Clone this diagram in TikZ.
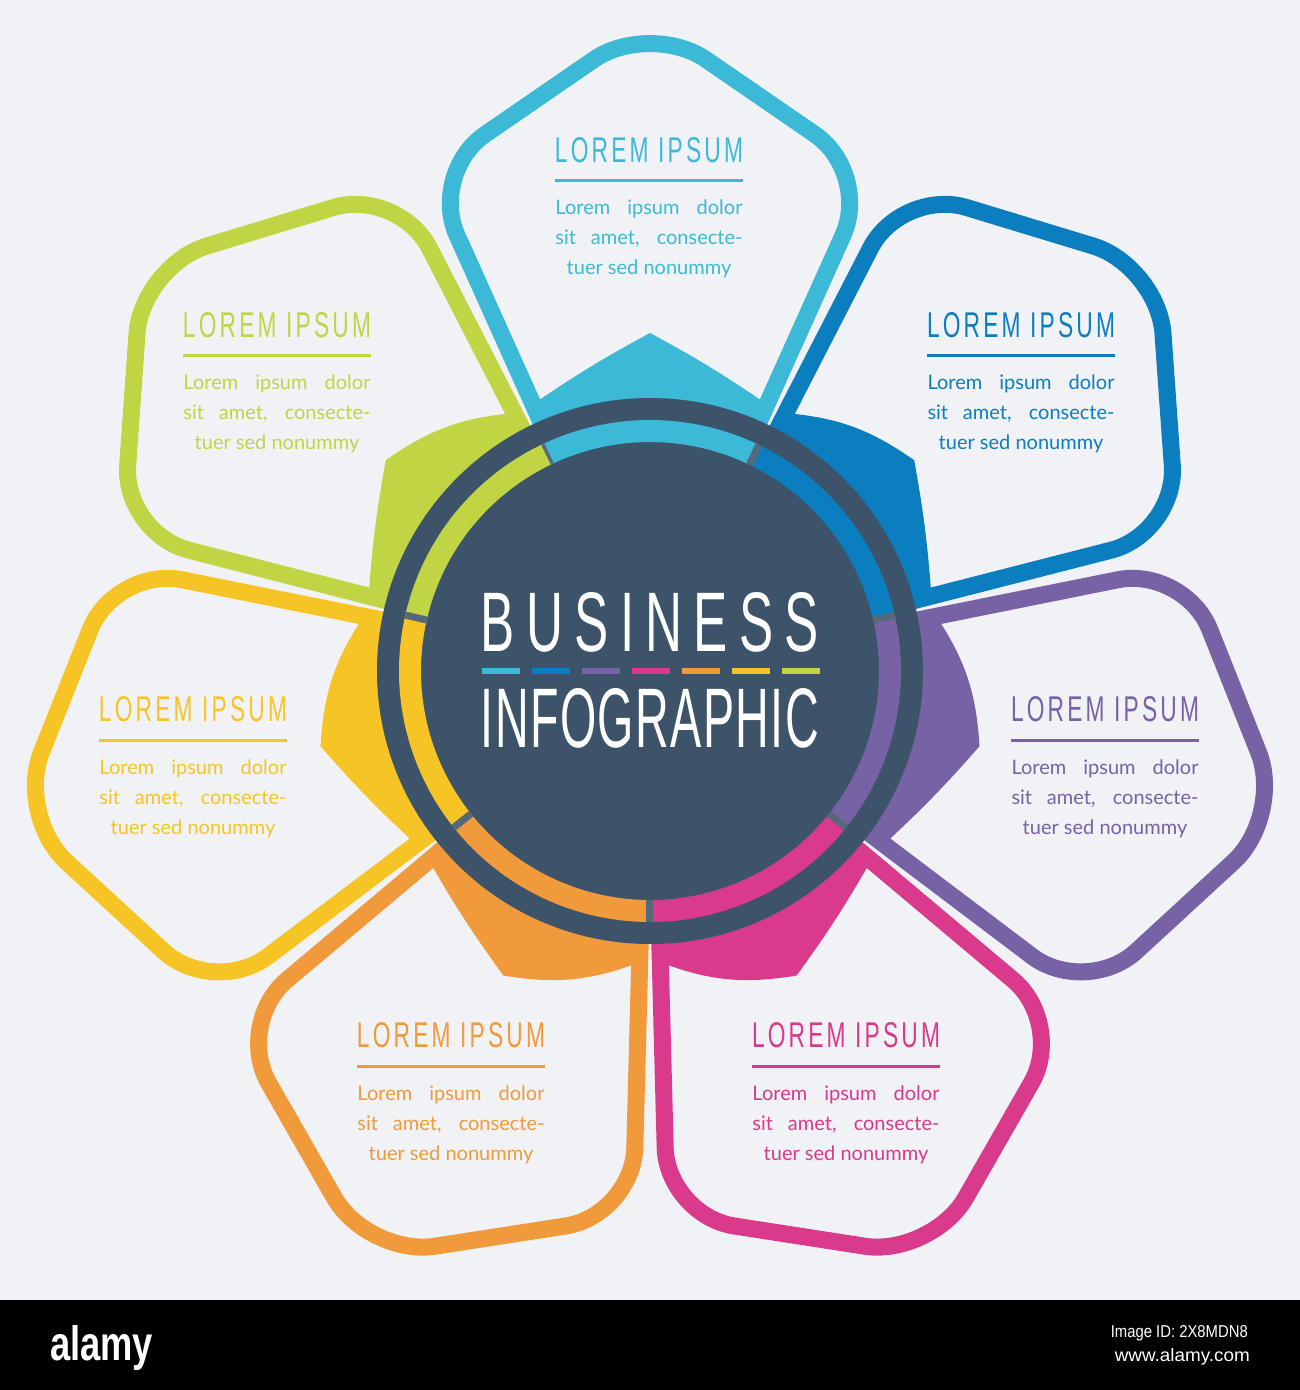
\documentclass[tikz,border=0pt]{standalone}
\usepackage{fontspec}
\usepackage{graphicx}
\setmainfont{Lato}
\newfontfamily\titlefont[LetterSpace=14]{Liberation Sans}
\newfontfamily\bizfont[LetterSpace=22]{Liberation Sans}
\newfontfamily\infofont[LetterSpace=3]{Liberation Sans}
\newfontfamily\bodyfont{Lato}
\newfontfamily\logofont{Liberation Sans}
\definecolor{bgc}{HTML}{F1F2F6}
\definecolor{ccyan}{HTML}{3CB9D7}
\definecolor{cblue}{HTML}{0B7EC0}
\definecolor{cpurple}{HTML}{7762A6}
\definecolor{cpink}{HTML}{D93A8C}
\definecolor{corange}{HTML}{F09A3B}
\definecolor{cyellow}{HTML}{F6C525}
\definecolor{cgreen}{HTML}{C1D443}
\definecolor{cdark}{HTML}{3D5369}
\definecolor{csep}{HTML}{56687B}
\tikzset{
  petalline/.style={line width=17pt, line join=round, rounded corners=68pt},
  bodytext/.style={anchor=base, inner sep=0pt, font=\bodyfont\fontsize{20}{20}\selectfont},
  titletext/.style={inner sep=0pt},
}
\newcommand\petaltext[3]{%
  \begin{scope}[shift={(#2,#3)}]
    \node[titletext, text=#1] (t#1) at (0,0) {\resizebox{188pt}{25pt}{\titlefont LOREM IPSUM}};
    \fill[#1] (-94,-32.5) rectangle (94,-29.5);
    \node[bodytext, text=#1] (a#1) at (0,-65) {\makebox[187pt][s]{Lorem ipsum dolor}};
    \node[bodytext, text=#1] (b#1) at (0,-95) {\makebox[187pt][s]{sit amet, consecte-}};
    \node[bodytext, text=#1] (c#1) at (0,-125) {tuer sed nonummy};
  \end{scope}}
\begin{document}
\begin{tikzpicture}[x=1pt,y=1pt]
\useasboundingbox (-650,-719) rectangle (650,671);
\fill[bgc] (-650,-629) rectangle (650,671);
\fill[black] (-650,-719) rectangle (650,-629);
% petal fills (angle / colour / left bend / right bend)
\foreach \ang/\col/\bl/\br in {90/ccyan/3/3,38.5714/cblue/15/3,-12.8571/cpurple/15/3,-64.2857/cpink/3/15,-115.7143/corange/15/3,-167.1429/cyellow/3/15,141.4286/cgreen/3/15}{
  \begin{scope}[rotate=\ang-90]
    \fill[\col] (0,338) to[bend left=\br] (118,266) -- (60,140) -- (-60,140) -- (-118,266) to[bend left=\bl] (0,338) -- cycle;
  \end{scope}
}
% petal outlines
\foreach \ang/\col in {90/ccyan,38.5714/cblue,-12.8571/cpurple,-64.2857/cpink,-115.7143/corange,-167.1429/cyellow,141.4286/cgreen}{
  \begin{scope}[rotate=\ang-90]
    \draw[petalline, draw=\col] (0,140) -- (60,140) -- (221,498) -- (0,650) -- (-221,498) -- (-60,140) -- cycle;
  \end{scope}
}
% centre disc
\fill[cdark] (0,0) circle (273);
\foreach \ang/\col in {90/ccyan,38.5714/cblue,-12.8571/cpurple,-64.2857/cpink,-115.7143/corange,-167.1429/cyellow,141.4286/cgreen}{
  \fill[\col] (\ang-25.714:251) arc[start angle=\ang-25.714, end angle=\ang+25.714, radius=251]
     -- (\ang+25.714:229) arc[start angle=\ang+25.714, end angle=\ang-25.714, radius=229] -- cycle;
  \draw[csep, line width=7pt] (\ang+25.714:229) -- (\ang+25.714:251);
}
% centre title
\node[inner sep=0pt, text=white] (biz) at (0,49) {\resizebox{338pt}{59pt}{\bizfont BUSINESS}};
\node[inner sep=0pt, text=white] (info) at (0,-47) {\resizebox{338pt}{59pt}{\infofont INFOGRAPHIC}};
\foreach \i/\c in {0/ccyan,1/cblue,2/cpurple,3/cpink,4/corange,5/cyellow,6/cgreen}{
  \fill[\c] (-168+50*\i,-3) rectangle ++(38,6);
}
% petal texts
\petaltext{ccyan}{-1}{521}
\petaltext{cblue}{371}{346}
\petaltext{cgreen}{-373}{346}
\petaltext{cyellow}{-457}{-38}
\petaltext{cpurple}{455}{-38}
\petaltext{corange}{-199}{-364}
\petaltext{cpink}{196}{-364}
% footer
\node[anchor=base west, inner sep=0pt, text=white] (logo) at (-600,-689) {\resizebox{103pt}{35pt}{\logofont\bfseries alamy}};
\node[anchor=base east, inner sep=0pt, text=white] (imgid) at (598,-666) {\resizebox{137pt}{12pt}{\logofont Image ID: 2X8MDN8}};
\node[anchor=base east, inner sep=0pt, text=white] (www) at (600,-690) {\resizebox{135pt}{13pt}{\logofont www.alamy.com}};
\end{tikzpicture}
\end{document}
